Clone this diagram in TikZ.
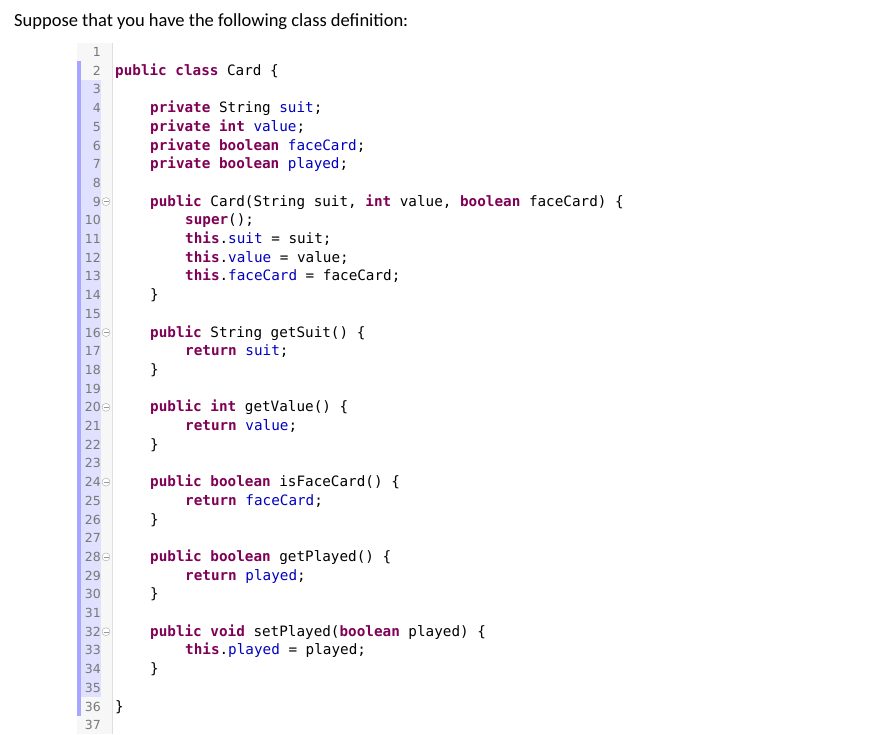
\documentclass[tikz,border=0pt]{standalone}
\usepackage{fontspec}
\setmainfont{Carlito}
\newfontfamily\codef{DejaVu Sans Mono}
\newfontfamily\numf{DejaVu Sans}
\definecolor{kwc}{HTML}{7F0055}
\definecolor{fdc}{HTML}{0000C0}
\definecolor{lnc}{HTML}{787878}
\newcommand{\kw}[1]{\textcolor{kwc}{\textbf{#1}}}
\newcommand{\fd}[1]{\textcolor{fdc}{#1}}
\begin{document}
\begin{tikzpicture}[x=1pt,y=-1pt,
  code/.style={anchor=base west,inner sep=0,font=\codef\fontsize{14.3}{16}\selectfont},
  lnum/.style={anchor=base east,inner sep=0,text=lnc,font=\numf\fontsize{12.5}{14}\selectfont},
  fold/.style={circle,draw=gray!70,fill=white,minimum size=8pt,inner sep=0}]
\useasboundingbox (0,0) rectangle (870,734);
\fill[white] (0,0) rectangle (870,734);
\node[anchor=base west,inner sep=0,font=\fontsize{18.5}{22}\selectfont] (title) at (14,26) {Suppose that you have the following class definition:};
\fill[gray!6] (77,43) rectangle (112,734);
\fill[blue!12] (81,{52+1*18.7+9.35}) rectangle (101,{52+34*18.7+9.35});
\fill[blue!35] (77,{52+0*18.7+9.35}) rectangle (81,{52+35*18.7+9.35});
\draw[gray!25] (112,43) -- (112,734);
\foreach \i in {1,...,37}{
  \node[lnum] (n\i) at (101,{52+(\i-1)*18.7+4.5}) {\i};
}
\foreach \i in {9,16,20,24,28,32}{
  \node[fold] (f\i) at (106,{52+(\i-1)*18.7}) {};
  \draw[gray!80] (103.5,{52+(\i-1)*18.7}) -- (108.5,{52+(\i-1)*18.7});
}
\newcommand{\cl}[3]{\node[code] (c#1) at ({115+#2*35},{52+(#1-1)*18.7+4.5}) {#3};}
\cl{2}{0}{\kw{public} \kw{class} Card \{}
\cl{4}{1}{\kw{private} String \fd{suit};}
\cl{5}{1}{\kw{private} \kw{int} \fd{value};}
\cl{6}{1}{\kw{private} \kw{boolean} \fd{faceCard};}
\cl{7}{1}{\kw{private} \kw{boolean} \fd{played};}
\cl{9}{1}{\kw{public} Card(String suit, \kw{int} value, \kw{boolean} faceCard) \{}
\cl{10}{2}{\kw{super}();}
\cl{11}{2}{\kw{this}.\fd{suit} = suit;}
\cl{12}{2}{\kw{this}.\fd{value} = value;}
\cl{13}{2}{\kw{this}.\fd{faceCard} = faceCard;}
\cl{14}{1}{\}}
\cl{16}{1}{\kw{public} String getSuit() \{}
\cl{17}{2}{\kw{return} \fd{suit};}
\cl{18}{1}{\}}
\cl{20}{1}{\kw{public} \kw{int} getValue() \{}
\cl{21}{2}{\kw{return} \fd{value};}
\cl{22}{1}{\}}
\cl{24}{1}{\kw{public} \kw{boolean} isFaceCard() \{}
\cl{25}{2}{\kw{return} \fd{faceCard};}
\cl{26}{1}{\}}
\cl{28}{1}{\kw{public} \kw{boolean} getPlayed() \{}
\cl{29}{2}{\kw{return} \fd{played};}
\cl{30}{1}{\}}
\cl{32}{1}{\kw{public} \kw{void} setPlayed(\kw{boolean} played) \{}
\cl{33}{2}{\kw{this}.\fd{played} = played;}
\cl{34}{1}{\}}
\cl{36}{0}{\}}
\end{tikzpicture}
\end{document}
